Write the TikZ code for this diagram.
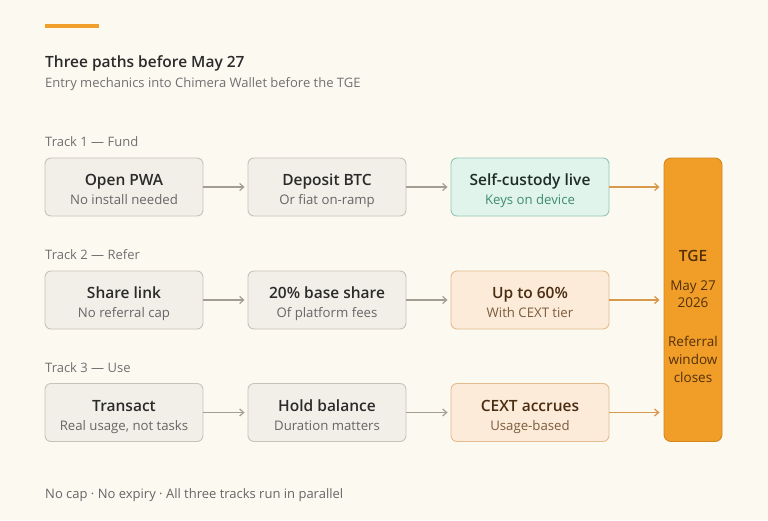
\documentclass[tikz,border=0pt]{standalone}
\usepackage{fontspec}
\setmainfont{Open Sans}[BoldFont={Open Sans Semibold}]
\usetikzlibrary{arrows.meta}
\definecolor{bg}{HTML}{FCF9F1}
\definecolor{accent}{HTML}{F0A02A}
\definecolor{grayfill}{HTML}{F2EFE9}
\definecolor{grayline}{HTML}{C8C3B9}
\definecolor{grayarrow}{HTML}{A39E94}
\definecolor{tealfill}{HTML}{E1F4EC}
\definecolor{tealline}{HTML}{93C7B3}
\definecolor{tealtitle}{HTML}{1E2B27}
\definecolor{tealsub}{HTML}{3E8C72}
\definecolor{peachfill}{HTML}{FBEBD8}
\definecolor{peachline}{HTML}{E4BC90}
\definecolor{peachtitle}{HTML}{4A2C12}
\definecolor{peachsub}{HTML}{7B5B3D}
\definecolor{orangearrow}{HTML}{D9994C}
\definecolor{tgefill}{HTML}{F09E28}
\definecolor{tgeline}{HTML}{D2861E}
\definecolor{tgetext}{HTML}{55300A}
\definecolor{darktext}{HTML}{2B2B2B}
\definecolor{subtext}{HTML}{707070}
\definecolor{boxsub}{HTML}{666666}
\tikzset{
  box/.style={draw, line width=0.9pt, rounded corners=6pt, minimum width=158pt, minimum height=58pt, inner sep=0pt},
  graybox/.style={box, fill=grayfill, draw=grayline},
  tealbox/.style={box, fill=tealfill, draw=tealline},
  peachbox/.style={box, fill=peachfill, draw=peachline},
  btitle/.style={font=\fontsize{15.5}{18}\selectfont\bfseries, inner sep=0pt, anchor=base},
  bsub/.style={font=\fontsize{13.2}{16}\selectfont, inner sep=0pt, anchor=base},
  tracklbl/.style={font=\fontsize{13}{16}\selectfont, text=subtext, anchor=base west, inner sep=0pt},
  grayarr/.style={draw=grayarrow, line width=1.2pt, -{Straight Barb[length=4pt,width=7pt]}, shorten >=3pt},
  orangearr/.style={draw=orangearrow, line width=1.3pt, -{Straight Barb[length=4pt,width=7pt]}, shorten >=4pt},
  tgetxt/.style={font=\fontsize{13.5}{16}\selectfont, text=tgetext, inner sep=0pt, anchor=base},
}
\begin{document}
\begin{tikzpicture}[x=1pt,y=-1pt]
\fill[bg] (0,0) rectangle (768,520);
\useasboundingbox (0,0) rectangle (768,520);
\fill[accent] (45,24) rectangle (99,28);
\node[font=\fontsize{15.5}{18}\selectfont\bfseries, text=darktext, anchor=base west, inner sep=0pt] (title) at (45,67) {Three paths before May 27};
\node[font=\fontsize{13}{16}\selectfont, text=subtext, anchor=base west, inner sep=0pt] (subtitle) at (45,87) {Entry mechanics into Chimera Wallet before the TGE};

\node[tracklbl] (t1) at (45,146) {Track 1 — Fund};
\node[tracklbl] (t2) at (45,259) {Track 2 — Refer};
\node[tracklbl] (t3) at (45,372) {Track 3 — Use};

% row 1
\node[graybox] (a1) at (124,187) {};
\node[graybox] (a2) at (327,187) {};
\node[tealbox] (a3) at (530,187) {};
% row 2
\node[graybox] (b1) at (124,300) {};
\node[graybox] (b2) at (327,300) {};
\node[peachbox] (b3) at (530,300) {};
% row 3
\node[graybox] (c1) at (124,412.5) {};
\node[graybox] (c2) at (327,412.5) {};
\node[peachbox] (c3) at (530,412.5) {};

\node[draw=tgeline, fill=tgefill, line width=0.9pt, rounded corners=7pt, minimum width=58pt, minimum height=283.5pt, inner sep=0pt] (tge) at (693,299.75) {};

% texts
\node[btitle, text=darktext] (a1t) at (124,185) {Open PWA};
\node[bsub, text=boxsub] (a1s) at (124,204.5) {No install needed};
\node[btitle, text=darktext] (a2t) at (327,185) {Deposit BTC};
\node[bsub, text=boxsub] (a2s) at (327,204.5) {Or fiat on-ramp};
\node[btitle, text=tealtitle] (a3t) at (530,185) {Self-custody live};
\node[bsub, text=tealsub] (a3s) at (530,204.5) {Keys on device};

\node[btitle, text=darktext] (b1t) at (124,298) {Share link};
\node[bsub, text=boxsub] (b1s) at (124,317.5) {No referral cap};
\node[btitle, text=darktext] (b2t) at (327,298) {20\% base share};
\node[bsub, text=boxsub] (b2s) at (327,317.5) {Of platform fees};
\node[btitle, text=peachtitle] (b3t) at (530,298) {Up to 60\%};
\node[bsub, text=peachsub] (b3s) at (530,317.5) {With CEXT tier};

\node[btitle, text=darktext] (c1t) at (124,411) {Transact};
\node[bsub, text=boxsub] (c1s) at (124,430.5) {Real usage, not tasks};
\node[btitle, text=darktext] (c2t) at (327,411) {Hold balance};
\node[bsub, text=boxsub] (c2s) at (327,430.5) {Duration matters};
\node[btitle, text=peachtitle] (c3t) at (530,411) {CEXT accrues};
\node[bsub, text=peachsub] (c3s) at (530,430.5) {Usage-based};

\node[btitle, text=tgetext] (tgeA) at (693,261.5) {TGE};
\node[tgetxt] (tgeB) at (693,290) {May 27};
\node[tgetxt] (tgeC) at (693,307.5) {2026};
\node[tgetxt] (tgeD) at (693,346) {Referral};
\node[tgetxt] (tgeE) at (693,364) {window};
\node[tgetxt] (tgeF) at (693,382) {closes};

% arrows
\draw[grayarr] (a1.east) -- (a2.west);
\draw[grayarr] (a2.east) -- (a3.west);
\draw[grayarr] (b1.east) -- (b2.west);
\draw[grayarr] (b2.east) -- (b3.west);
\draw[grayarr] (c1.east) -- (c2.west);
\draw[grayarr] (c2.east) -- (c3.west);
\draw[orangearr] (a3.east) -- (a3.east -| tge.west);
\draw[orangearr] (b3.east) -- (b3.east -| tge.west);
\draw[orangearr] (c3.east) -- (c3.east -| tge.west);

\node[font=\fontsize{13}{16}\selectfont, text=boxsub, anchor=base west, inner sep=0pt] (footer) at (45,498) {No cap · No expiry · All three tracks run in parallel};
\end{tikzpicture}
\end{document}
